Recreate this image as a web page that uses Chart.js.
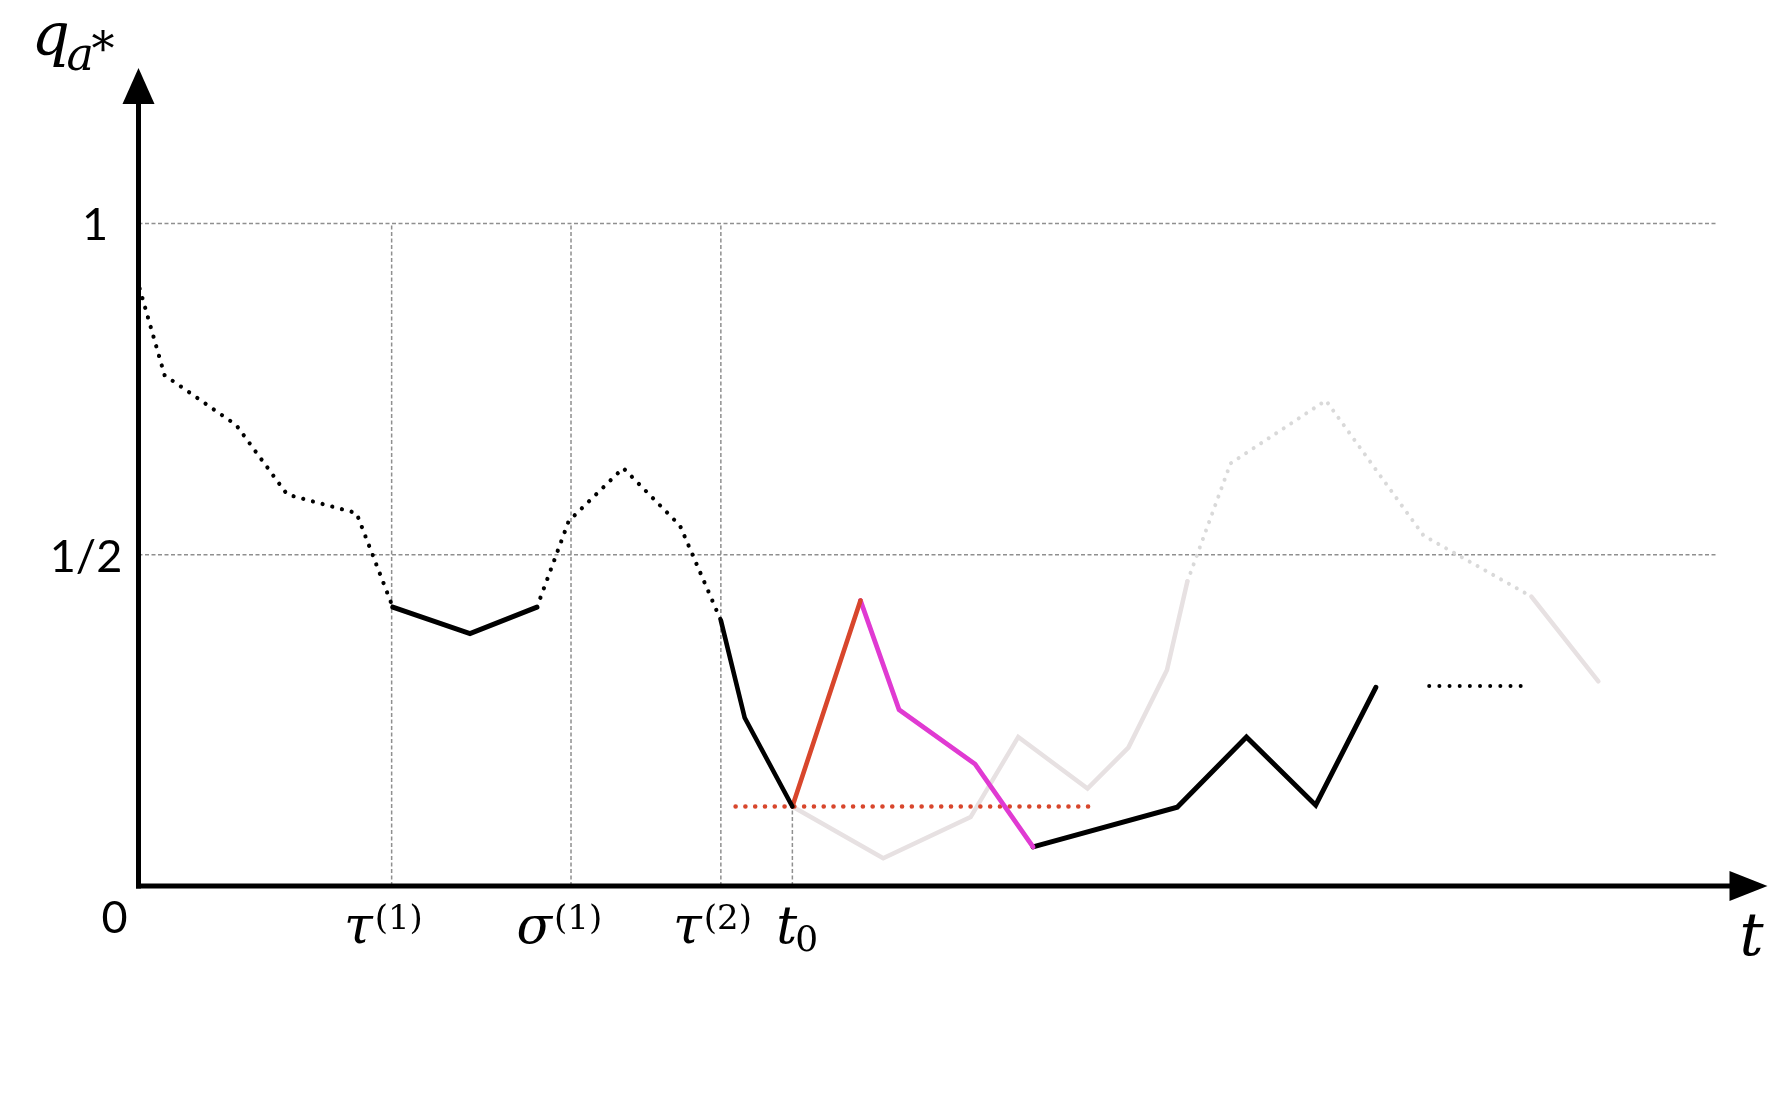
<!DOCTYPE html>
<html>
<head>
<meta charset="utf-8">
<script src="https://cdn.jsdelivr.net/npm/chart.js@4/dist/chart.umd.min.js"></script>
<style>
html,body{margin:0;padding:0;background:#fff;}
#wrap{width:1780px;height:1100px;position:relative;}
</style>
</head>
<body>
<div id="wrap"><canvas id="c"></canvas></div>
<script>
// ---------- data (t = time, q = q_{a*}) ----------
// black path, dotted part before tau(1)
const tPathA = [0.1, 2.3, 8.6, 13.1, 19.2, 22.4];
const qPathA = [0.902, 0.771, 0.696, 0.591, 0.563, 0.421];
// black solid, tau(1) .. sigma(1)
const tPathB = [22.4, 29.2, 35.1];
const qPathB = [0.421, 0.381, 0.421];
// black dotted, sigma(1) .. tau(2)
const tPathC = [35.1, 37.9, 42.7, 47.7, 51.3];
const qPathC = [0.421, 0.551, 0.631, 0.544, 0.401];
// black solid, tau(2) .. t0
const tPathD = [51.3, 53.4, 57.6];
const qPathD = [0.401, 0.254, 0.120];
// red rise after t0
const tPathE = [57.6, 63.6];
const qPathE = [0.120, 0.431];
// magenta descent
const tPathF = [63.6, 67.0, 73.7, 78.8];
const qPathF = [0.431, 0.266, 0.184, 0.059];
// black solid continuation
const tPathG = [78.8, 91.5, 97.6, 103.7, 109.0];
const qPathG = [0.059, 0.119, 0.225, 0.122, 0.300];
// black "..." continuation
const tPathH = [113.7, 121.8];
const qPathH = [0.302, 0.302];
// red dotted level at q(t0)
const tLevel = [52.6, 83.7];
const qLevel = [0.120, 0.120];
// pale alternative path: solid, dotted, solid
const tAltJ = [57.6, 65.6, 73.3, 77.5, 83.6, 87.2, 90.6, 92.4];
const qAltJ = [0.120, 0.042, 0.104, 0.225, 0.147, 0.209, 0.326, 0.460];
const tAltK = [92.4, 96.2, 104.6, 113.2, 122.7];
const qAltK = [0.460, 0.638, 0.733, 0.529, 0.437];
const tAltL = [122.7, 128.6];
const qAltL = [0.437, 0.309];

// reference levels and time markers
const qRefLevels = [1, 0.5];
const tRefEnd = 139.0;
const tMarkers = [22.3, 38.1, 51.3];     // tau(1), sigma(1), tau(2)
const tZero = 57.6;                      // t0
const qAtT0 = 0.120;

// tick labels
const yTickValues = [1, 0.5, 0];
const yTickLabels = ['1', '1/2', '0'];
const xTickMain = ['τ', 'σ', 'τ', 't'];
const xTickSup  = ['(1)', '(1)', '(2)', ''];
const xTickSub  = ['', '', '', '0'];
const xTickValues = [tMarkers[0], tMarkers[1], tMarkers[2], tZero];

// ---------- helpers ----------
function pts(ts, qs){ return ts.map((t,i)=>({x:t, y:qs[i]})); }

const BLACK = '#000000', RED = '#d8462c', MAGENTA = '#e03ad2';
const PALE = '#e7e1e2', PALE_DOT = '#d9d9d9', GRID = '#8f8f8f';

function solid(data, color, order, w){
  return {data, borderColor: color, borderWidth: w || 5, order, clip: false,
          borderCapStyle: 'round', borderJoinStyle: 'miter', pointRadius: 0, fill: false};
}
function dotted(data, color, order, gap, w){
  return {data, borderColor: color, borderWidth: w || 4, order, clip: false,
          borderDash: [0.01, gap || 10], borderCapStyle: 'round', pointRadius: 0, fill: false};
}
function gridLine(data, dash){
  return {data, borderColor: GRID, borderWidth: 1.5, order: 30, clip: false,
          borderDash: dash, pointRadius: 0, fill: false};
}

const datasets = [];
qRefLevels.forEach(q => datasets.push(gridLine(pts([0, tRefEnd], [q, q]), [4, 2.5])));
tMarkers.forEach(t => datasets.push(gridLine(pts([t, t], [0, 1]), [4, 2.5])));
datasets.push(gridLine(pts([tZero, tZero], [0, qAtT0]), [4, 2.5]));

datasets.push(solid(pts(tAltJ, qAltJ), PALE, 20, 4.5));
datasets.push(dotted(pts(tAltK, qAltK), PALE_DOT, 20, 9, 4));
datasets.push(solid(pts(tAltL, qAltL), PALE, 20, 4.5));

datasets.push(dotted(pts(tLevel, qLevel), RED, 10, 9.78, 4.6));

datasets.push(dotted(pts(tPathA, qPathA), BLACK, 1, 10, 4.2));
datasets.push(solid(pts(tPathB, qPathB), BLACK, 1));
datasets.push(dotted(pts(tPathC, qPathC), BLACK, 1, 10, 4.2));
datasets.push(solid(pts(tPathD, qPathD), BLACK, 1, 4.6));
datasets.push(solid(pts(tPathE, qPathE), RED, 1, 4.6));
datasets.push(solid(pts(tPathF, qPathF), MAGENTA, 1, 4.8));
datasets.push(solid(pts(tPathG, qPathG), BLACK, 1));
datasets.push(dotted(pts(tPathH, qPathH), BLACK, 1, 10.15, 4));

// ---------- axes, arrows and labels ----------
const SERIF = '"DejaVu Serif", "Liberation Serif", serif';
const SANS = 'Lato, "Open Sans", sans-serif';

const axesPlugin = {
  id: 'axesArrows',
  afterDatasetsDraw(chart){
    const {ctx, chartArea: a, scales: {x, y}} = chart;
    const x0 = x.getPixelForValue(0), y0 = y.getPixelForValue(0);
    ctx.save();
    ctx.strokeStyle = '#000'; ctx.fillStyle = '#000';
    ctx.lineWidth = 5; ctx.lineCap = 'butt'; ctx.setLineDash([]);
    // y axis with arrow
    ctx.beginPath(); ctx.moveTo(x0, y0 + 2.5); ctx.lineTo(x0, a.top + 30); ctx.stroke();
    ctx.beginPath(); ctx.moveTo(x0, a.top); ctx.lineTo(x0 - 16, a.top + 36); ctx.lineTo(x0 + 16, a.top + 36);
    ctx.closePath(); ctx.fill();
    // x axis with arrow
    ctx.beginPath(); ctx.moveTo(x0 - 2.5, y0); ctx.lineTo(a.right - 32, y0); ctx.stroke();
    ctx.beginPath(); ctx.moveTo(a.right, y0); ctx.lineTo(a.right - 38, y0 - 15); ctx.lineTo(a.right - 38, y0 + 15);
    ctx.closePath(); ctx.fill();

    // y tick labels
    ctx.textBaseline = 'alphabetic';
    ctx.font = '45px ' + SANS;
    ctx.textAlign = 'center';
    const yOff = {'1': [-43.5, 16.5], '1/2': [-52.5, 17.5], '0': [-24, 47]};
    yTickValues.forEach((v, i) => {
      const lab = yTickLabels[i], o = yOff[lab];
      const py = (v === 0) ? y0 : y.getPixelForValue(v);
      ctx.fillText(lab, x0 + o[0], py + o[1]);
    });

    // x tick labels (math style)
    ctx.textAlign = 'left';
    xTickValues.forEach((v, i) => {
      const px = x.getPixelForValue(v);
      const base = y0 + 57;
      ctx.font = 'italic 52px ' + SERIF;
      const wMain = ctx.measureText(xTickMain[i]).width;
      if (xTickSup[i]) {
        const sx = px - 19 - wMain;
        ctx.fillText(xTickMain[i], sx, base);
        ctx.font = '34px ' + SERIF;
        ctx.fillText(xTickSup[i], px - 17, base - 14);
      } else {
        const sx = px - 16;
        ctx.fillText(xTickMain[i], sx, base);
        ctx.font = '36px ' + SERIF;
        ctx.fillText(xTickSub[i], sx + wMain - 2, base + 8);
      }
    });

    // axis titles
    ctx.font = 'italic 60px ' + SERIF;
    ctx.textAlign = 'center';
    ctx.fillText('t', a.right - 16, y0 + 69);
    ctx.textAlign = 'left';
    ctx.font = 'italic 60px ' + SERIF;
    ctx.fillText('q', x0 - 107, a.top - 13);
    ctx.font = 'italic 46px ' + SERIF;
    ctx.fillText('a', x0 - 72, a.top + 2);
    ctx.font = '46px ' + SERIF;
    ctx.fillText('*', x0 - 47, a.top - 3);
    ctx.restore();
  }
};

new Chart(document.getElementById('c'), {
  type: 'line',
  data: { datasets },
  options: {
    responsive: true,
    maintainAspectRatio: false,
    animation: false,
    layout: { padding: { left: 138.5, right: 12.5, top: 68, bottom: 214 } },
    scales: {
      x: { type: 'linear', min: 0, max: 143.5, display: false },
      y: { type: 'linear', min: 0, max: 1.2349, display: false }
    },
    elements: { line: { tension: 0 }, point: { radius: 0 } },
    plugins: { legend: { display: false }, tooltip: { enabled: false } }
  },
  plugins: [axesPlugin]
});
</script>
</body>
</html>
